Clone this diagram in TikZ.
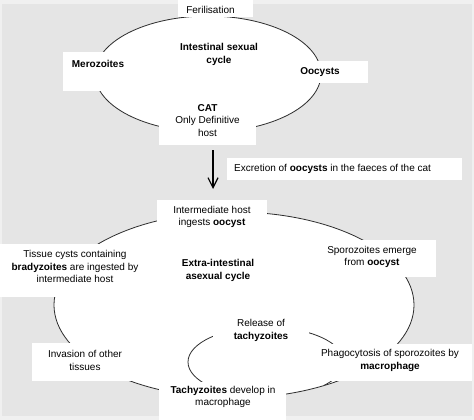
\documentclass[tikz,border=0pt]{standalone}
\usepackage{fontspec}
\setmainfont{Liberation Sans}
\usetikzlibrary{arrows.meta}
\definecolor{bgouter}{RGB}{240,240,240}
\definecolor{bginner}{RGB}{229,229,229}
\definecolor{cycline}{RGB}{45,45,45}
\tikzset{
  cyc/.style={draw=cycline, line width=0.8pt},
  whitebox/.style={rectangle, fill=white, draw=none, inner sep=0pt},
  txt/.style={inner sep=0pt, align=center, font=\fontsize{10}{12.5}\selectfont},
  flow/.style={-{Straight Barb[length=10pt,width=10pt]}, line width=1.2pt, black}
}
\begin{document}
\begin{tikzpicture}[x=1pt,y=-1pt]
\useasboundingbox (0,0) rectangle (474,420);
% background
\fill[bgouter] (0,0) rectangle (474,420);
\fill[bginner] (2,4) rectangle (472,416);
% cycles
\filldraw[cyc, fill=white] (208,74) ellipse [x radius=113pt, y radius=58pt];
\filldraw[cyc, fill=white] (234,305) ellipse [x radius=180pt, y radius=93pt];
\begin{scope}
\clip (150,300) rectangle (360,384);
\draw[cyc] (266,362) ellipse [x radius=78pt, y radius=35pt];
\end{scope}
% upper boxes
\node[whitebox, minimum width=75pt, minimum height=18pt] (ferilbox) at (215.5,8) {};
\node[whitebox, minimum width=70pt, minimum height=39pt] (merobox) at (98,71.5) {};
\node[whitebox, minimum width=78pt, minimum height=22pt] (oocbox) at (329,72) {};
\node[whitebox, minimum width=97pt, minimum height=47pt] (catbox) at (207.5,121.5) {};
\node[whitebox, minimum width=235pt, minimum height=22pt] (excbox) at (344.5,169) {};
% lower boxes
\node[whitebox, minimum width=110pt, minimum height=32pt] (interbox) at (212,216) {};
\node[whitebox, minimum width=147pt, minimum height=53pt] (tissuebox) at (73.5,270.5) {};
\node[whitebox, minimum width=112pt, minimum height=37pt] (sporobox) at (380,258.5) {};
\node[whitebox, minimum width=108pt, minimum height=38pt] (invbox) at (86,362) {};
\node[whitebox, minimum width=96pt, minimum height=36pt] (relbox) at (261,330) {};
\node[whitebox, minimum width=158pt, minimum height=37pt] (phagbox) at (393,362.5) {};
\node[whitebox, minimum width=127pt, minimum height=39pt] (tachybox) at (222.5,401.5) {};
% texts
\node[txt] (feril) at (210.5,10) {Ferilisation};
\node[txt] (intest) at (219,54.5) {\textbf{Intestinal sexual}\\\textbf{cycle}};
\node[txt] (mero) at (98,64) {\textbf{Merozoites}};
\node[txt] (ooc) at (320,72) {\textbf{Oocysts}};
\node[txt] (cat) at (207.5,120.5) {\textbf{CAT}\\Only Definitive\\host};
\node[txt, anchor=west] (exc) at (234,169) {Excretion of \textbf{oocysts} in the faeces of the cat};
\node[txt] (inter) at (212,217) {Intermediate host\\ingests \textbf{oocyst}};
\node[txt] (extra) at (218,270.5) {\textbf{Extra-intestinal}\\\textbf{asexual cycle}};
\node[txt] (tissue) at (75,266.5) {Tissue cysts containing\\\textbf{bradyzoites} are ingested by\\intermediate host};
\node[txt] (sporo) at (372,257) {Sporozoites emerge\\from \textbf{oocyst}};
\node[txt] (inv) at (85,360.5) {Invasion of other\\tissues};
\node[txt] (rel) at (261,330.5) {Release of\\\textbf{tachyzoites}};
\node[txt] (phag) at (390,360.5) {Phagocytosis of sporozoites by\\\textbf{macrophage}};
\node[txt] (tachy) at (223,397) {\textbf{Tachyzoites} develop in\\macrophage};
% arrow
\coordinate (atop) at (213,150);
\coordinate (abot) at (213,189);
\draw[flow] (atop) -- (abot);
\end{tikzpicture}
\end{document}
